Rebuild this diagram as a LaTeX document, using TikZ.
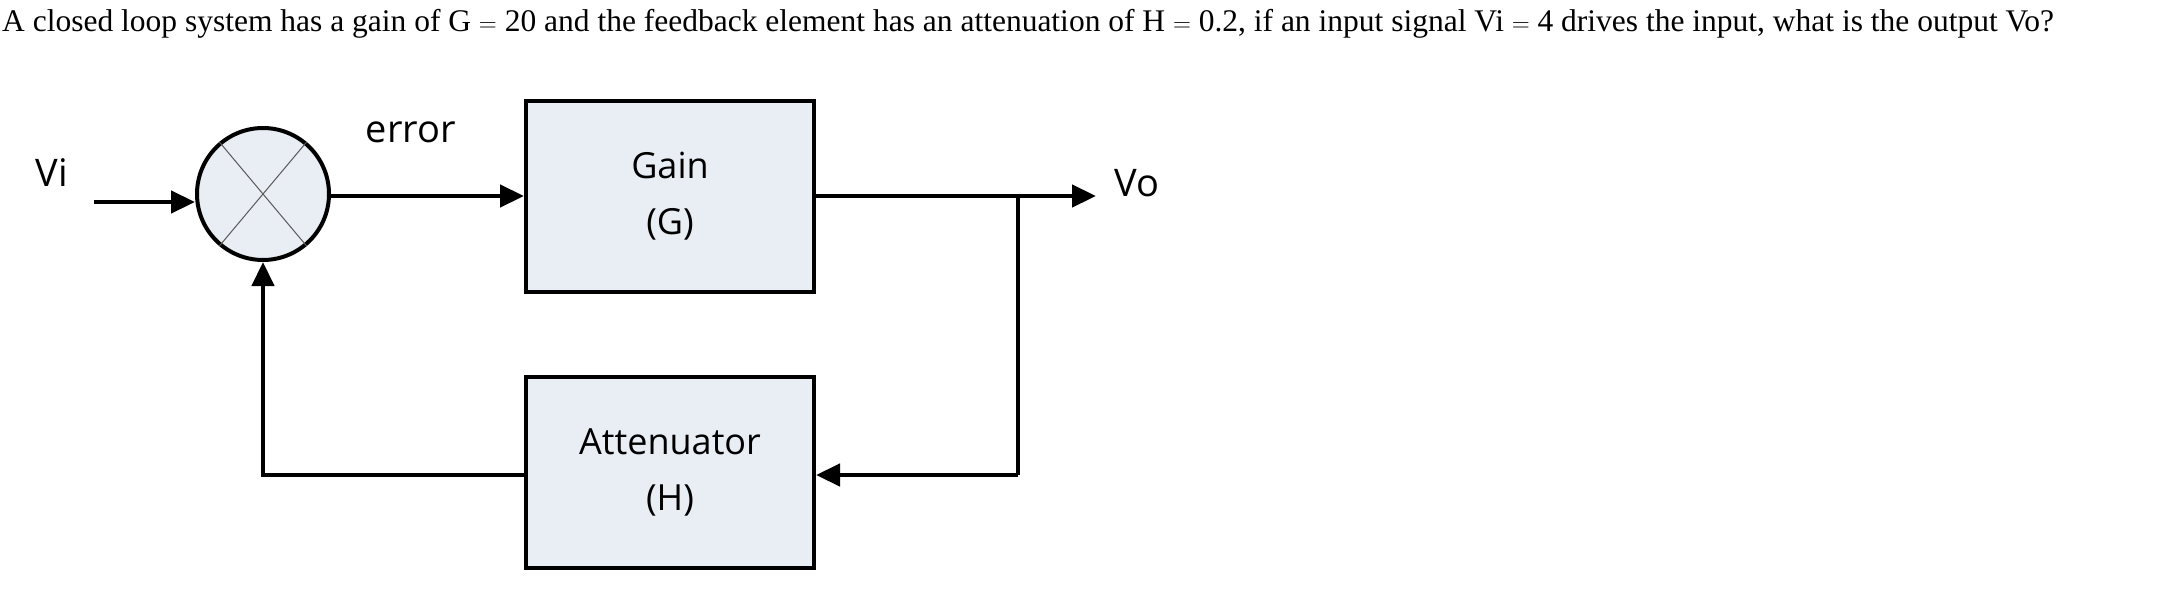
\documentclass[tikz,border=0pt]{standalone}
\usepackage{fontspec}
\setmainfont{Liberation Serif}
\newfontfamily\diag{Open Sans}
\usetikzlibrary{arrows.meta}
\definecolor{boxfill}{HTML}{E9EDF4}
\begin{document}
\begin{tikzpicture}[x=1pt,y=-1pt,
  blk/.style={draw=black,line width=4pt,fill=boxfill,minimum width=288pt,minimum height=191pt,inner sep=0pt,font=\diag\fontsize{36}{56}\selectfont,align=center},
  wire/.style={line width=4.5pt,-{Triangle[length=24pt,width=22pt]}},
  lbl/.style={font=\diag\fontsize{38}{44}\selectfont,inner sep=0pt}]
\useasboundingbox (0,0) rectangle (2172,600);
\node[anchor=west,inner sep=0pt,font=\fontsize{31.5}{36}\selectfont] (title) at (2,24) {A closed loop system has a gain of G $=$ 20 and the feedback element has an attenuation of H $=$ 0.2, if an input signal Vi $=$ 4 drives the input, what is the output Vo?};
\node[circle,draw,line width=4pt,fill=boxfill,minimum size=132pt,inner sep=0pt] (sum) at (263,194) {};
\draw[line width=1pt,gray!70!black] (sum.50) -- (sum.230) (sum.130) -- (sum.310);
\node[blk] (gain) at (670,196) {Gain\\(G)};
\node[blk] (att) at (670,472) {Attenuator\\(H)};
\node[lbl] (vi) at (52,173) {Vi};
\node[lbl] (err) at (411,132) {error};
\node[lbl,anchor=west] (vo) at (1114,183) {Vo};
\coordinate (in) at (94,202);
\coordinate (out) at (1096,196);
\coordinate (br) at (1018,196);
\coordinate (brd) at (1018,475);
\coordinate (fl) at (263,475);
\draw[wire] (in) -- (in -| sum.west);
\draw[wire] (sum.east |- gain.west) -- (gain.west);
\draw[wire] (gain.east) -- (out);
\draw[line width=4.5pt] (br) -- (brd);
\draw[wire] (brd) -- (brd -| att.east);
\draw[wire] (att.west |- fl) -- (fl) -- (sum.south);
\end{tikzpicture}
\end{document}
